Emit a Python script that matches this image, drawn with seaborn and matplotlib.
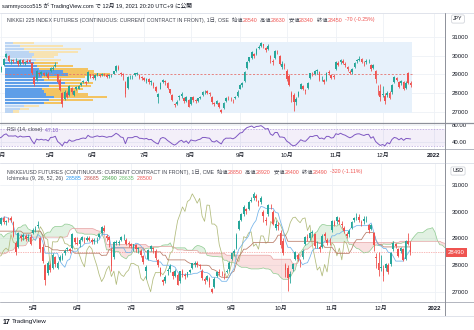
import numpy as np
import pandas as pd
import matplotlib
matplotlib.use("Agg")
import matplotlib.pyplot as plt
from matplotlib.lines import Line2D
from matplotlib.transforms import blended_transform_factory
import seaborn as sns

# ---------------------------------------------------------------------------
# Trading calendar (Osaka Exchange sessions)
# ---------------------------------------------------------------------------
closed_days = ["2020-12-31", "2021-01-01", "2021-01-11", "2021-02-11", "2021-02-23",
               "2021-04-29", "2021-05-03", "2021-05-04", "2021-05-05", "2021-07-22",
               "2021-07-23", "2021-08-09", "2021-09-20", "2021-09-23", "2021-11-03",
               "2021-11-23"]
future_closed = ["2021-12-31", "2022-01-03"]

# ---------------------------------------------------------------------------
# Daily Nikkei 225 futures bars, 2020-12-14 .. 2021-12-14 (shared by both contracts)
# ---------------------------------------------------------------------------
nk_open = [
    # Dec 2020
    26700, 26650, 26750, 26800, 26750, 26750, 26550, 26450, 26600, 26650, 26700, 27000, 27500,
    # Jan
    27570, 27200, 27200, 27300, 27700, 28200, 28250, 28500, 28650, 28350, 28300, 28600, 28600,
    28700, 28650, 28750, 28600, 28350, 28100,
    # Feb
    27700, 28150, 28400, 28500, 28450, 28900, 29400, 29450, 29500, 29700, 30150, 30400, 30200,
    30150, 30050, 29700, 29900, 29700,
    # Mar
    29150, 29600, 29400, 29300, 28700, 29000, 28700, 29100, 29200, 29400, 29700, 29800, 29900,
    30000, 30100, 29500, 29100, 28900, 28300, 28900, 29350, 29400, 29350,
    # Apr
    29250, 29500, 29950, 30000, 29700, 29750, 29750, 29700, 29550, 29750, 29600, 29700, 29750,
    29600, 28850, 28700, 29100, 29050, 29100, 29000, 29050,
    # May
    29200, 29300, 29450, 29000, 28700, 28000, 27700, 28000, 27900, 28300, 27900, 28200, 28250,
    28450, 28600, 28600, 28650, 29000,
    # Jun
    28850, 28800, 28950, 28950, 28950, 29000, 28950, 28900, 28950, 29050, 29200, 29400, 29100,
    29050, 28600, 28300, 28850, 28850, 28950, 29050, 28950, 28850,
    # Jul
    28800, 28650, 28750, 28600, 28550, 28350, 27800, 28250, 28600, 28650, 28550, 28200, 27900,
    27450, 27400, 27800, 27850, 27750, 27600, 27650,
    # Aug
    27400, 27800, 27650, 27600, 27750, 27900, 28050, 28100, 28000, 27800, 27500, 27450, 27500,
    27100, 27200, 27600, 27750, 27750, 27650, 27750, 27850,
    # Sep
    28250, 28450, 28650, 29350, 29700, 29900, 30100, 30100, 30400, 30500, 30600, 30400, 30350,
    30000, 29700, 29900, 30250, 30000, 29400, 29500,
    # Oct
    29200, 28900, 28000, 27900, 27550, 27850, 28250, 28400, 28150, 28300, 28800, 29050, 29000,
    29200, 29150, 28800, 28700, 28700, 29150, 28950, 28900,
    # Nov
    29300, 29600, 29650, 29700, 29550, 29400, 29150, 29150, 29400, 29700, 29750, 29800, 29600,
    29650, 29750, 29500, 29350, 29200, 28300, 28100,
    # Dec 1-14
    27900, 27850, 27900, 28000, 28050, 28600, 28800, 28600, 28550, 28600,
]
nk_high = [
    26800, 26750, 26800, 26900, 26850, 26800, 26600, 26600, 26700, 26700, 26900, 27600, 27600,
    27600, 27280, 27350, 27620, 28150, 28300, 28500, 28800, 28750, 28450, 28680, 28700, 28850,
    28780, 28900, 28800, 28750, 28400, 28200,
    28150, 28400, 28700, 28550, 28800, 29400, 29600, 29650, 29650, 30100, 30500, 30450, 30350,
    30250, 30200, 29950, 30250, 29750,
    29700, 29700, 29600, 29400, 29000, 29300, 29100, 29200, 29300, 29750, 29800, 29950, 29980,
    30250, 30300, 29550, 29250, 28950, 28800, 29200, 29450, 29550, 29450,
    29450, 29900, 30150, 30050, 29800, 29850, 29900, 29750, 29800, 29850, 29700, 29800, 29850,
    29650, 28900, 29250, 29150, 29200, 29150, 29150, 29150,
    29400, 29450, 29650, 29050, 28800, 28050, 28150, 28100, 28450, 28350, 28150, 28400, 28450,
    28600, 28700, 28650, 29200, 29050,
    29050, 29000, 29100, 29050, 29100, 29100, 29000, 29000, 29050, 29200, 29480, 29500, 29150,
    29100, 28650, 28900, 28950, 28950, 29100, 29150, 29000, 28900,
    28850, 28800, 28800, 28700, 28600, 28400, 28000, 28600, 28750, 28700, 28600, 28250, 27950,
    27500, 27650, 27900, 28050, 27800, 27850, 27700,
    27800, 27850, 27700, 27750, 27850, 28100, 28150, 28150, 28050, 27850, 27550, 27650, 27550,
    27150, 27550, 27800, 27850, 27800, 27700, 27850, 28150,
    28500, 28600, 29200, 29700, 29950, 30250, 30150, 30400, 30550, 30750, 30650, 30450, 30600,
    30050, 29800, 30300, 30300, 30050, 29700, 29600,
    29300, 29000, 28100, 28000, 27800, 28100, 28550, 28450, 28250, 28600, 29100, 29150, 29250,
    29300, 29200, 28900, 28750, 29150, 29250, 29000, 29000,
    29700, 29700, 29850, 29800, 29650, 29450, 29250, 29350, 29650, 29800, 29960, 29900, 29700,
    29850, 29850, 29550, 29550, 29250, 28450, 28500,
    28400, 28000, 28100, 28100, 28500, 28900, 28850, 28650, 28700, 28650,
]
nk_low = [
    26600, 26550, 26650, 26750, 26700, 26550, 26350, 26400, 26550, 26600, 26650, 26950, 27350,
    27050, 26950, 26980, 27280, 27650, 27900, 28150, 28450, 28400, 28050, 28250, 28450, 28550,
    28500, 28600, 28400, 28400, 28050, 27600,
    27650, 28100, 28350, 28250, 28400, 28850, 29300, 29400, 29350, 29650, 30100, 30150, 30050,
    29950, 29950, 29550, 29850, 28950,
    29100, 29350, 29300, 28850, 28300, 28700, 28600, 28900, 29050, 29350, 29550, 29700, 29750,
    29950, 29700, 29100, 28950, 28350, 28250, 28850, 29250, 29300, 29100,
    29150, 29450, 29900, 29650, 29550, 29600, 29650, 29450, 29500, 29550, 29500, 29600, 29600,
    29050, 28400, 28650, 28900, 28950, 28900, 28900, 28750,
    29150, 29250, 29400, 28500, 28100, 27250, 27650, 27750, 27850, 27950, 27850, 28150, 28200,
    28400, 28550, 28450, 28600, 28800,
    28750, 28700, 28900, 28850, 28900, 28900, 28800, 28800, 28850, 29000, 29150, 29250, 28900,
    28700, 27800, 28250, 28750, 28750, 28900, 28950, 28750, 28700,
    28650, 28550, 28500, 28450, 28300, 28050, 27500, 28200, 28550, 28450, 28200, 27950, 27600,
    27250, 27350, 27650, 27750, 27500, 27550, 27250,
    27350, 27550, 27500, 27550, 27700, 27850, 27950, 27950, 27850, 27450, 27300, 27400, 27200,
    26950, 27150, 27550, 27650, 27600, 27500, 27700, 27800,
    28200, 28350, 28600, 29300, 29650, 29850, 29900, 30050, 30350, 30450, 30400, 30200, 30300,
    29600, 29500, 29850, 30100, 29500, 29300, 29300,
    28650, 28400, 27550, 27040, 27350, 27800, 28200, 28150, 27950, 28250, 28750, 28900, 28950,
    29050, 28650, 28650, 28500, 28650, 28950, 28750, 28750,
    29250, 29450, 29550, 29550, 29400, 29200, 29000, 29050, 29350, 29600, 29700, 29600, 29450,
    29550, 29600, 29200, 29300, 28550, 27900, 27600,
    27800, 27410, 27800, 27680, 27970, 28550, 28650, 28300, 28450, 28150,
]
nk_close = [
    26730, 26690, 26760, 26810, 26760, 26710, 26440, 26520, 26670, 26660, 26850, 27570, 27440,
    27250, 27150, 27060, 27500, 28130, 28170, 28450, 28700, 28500, 28240, 28630, 28520, 28750,
    28630, 28820, 28550, 28630, 28200, 27660,
    28090, 28360, 28650, 28340, 28780, 29390, 29500, 29560, 29520, 30080, 30470, 30290, 30240,
    30020, 30150, 29670, 30170, 28970,
    29660, 29410, 29560, 28930, 28860, 28740, 29030, 29040, 29210, 29720, 29770, 29920, 29910,
    30220, 29790, 29170, 28990, 28400, 28730, 29180, 29380, 29430, 29180,
    29390, 29850, 30080, 29700, 29730, 29710, 29770, 29540, 29750, 29620, 29640, 29680, 29690,
    29100, 28510, 29190, 29020, 29130, 28990, 29050, 28810,
    29330, 29360, 29520, 28610, 28150, 27450, 28080, 27820, 28400, 28040, 28100, 28320, 28360,
    28550, 28640, 28550, 29150, 28860,
    28810, 28950, 29060, 28940, 29020, 28960, 28860, 28960, 28950, 29160, 29440, 29290, 29020,
    28960, 27960, 28880, 28870, 28880, 29070, 29050, 28810, 28790,
    28710, 28780, 28600, 28640, 28370, 28120, 27940, 28570, 28720, 28610, 28280, 28000, 27650,
    27390, 27550, 27830, 27970, 27580, 27780, 27280,
    27780, 27640, 27580, 27730, 27820, 28070, 28070, 28010, 27970, 27520, 27420, 27580, 27280,
    27010, 27490, 27730, 27720, 27740, 27640, 27790, 28090,
    28450, 28540, 29130, 29660, 29910, 30180, 30010, 30380, 30450, 30670, 30510, 30320, 30500,
    29840, 29640, 30250, 30240, 29540, 29540, 29450,
    28770, 28440, 27820, 27530, 27680, 28050, 28500, 28230, 28140, 28550, 29070, 29020, 29210,
    29250, 28710, 28800, 28600, 29100, 29090, 28820, 28890,
    29640, 29520, 29790, 29610, 29500, 29280, 29100, 29270, 29600, 29770, 29800, 29680, 29590,
    29740, 29770, 29300, 29500, 28750, 28280, 27820,
    27940, 27600, 28030, 27750, 28450, 28850, 28720, 28350, 28640, 28200,
]

# Final three sessions (Dec 15-17) differ between the two contracts
ose_tail_open = [28300, 29100, 28540]
ose_tail_high = [28650, 29150, 28630]
ose_tail_low = [28200, 28480, 28340]
ose_tail_close = [28550, 28520, 28450]

cme_tail_open = [28250, 28900, 28850]
cme_tail_high = [28950, 29200, 28920]
cme_tail_low = [28200, 28750, 28400]
cme_tail_close = [28900, 28810, 28490]

# Visible-range volume profile of the OSE chart (bottom row first), thousand contracts
vp_up = [8, 15, 20, 40, 45, 50, 42, 40, 38, 45, 62, 40, 38, 65, 60, 35, 33, 30, 32, 28, 30, 25, 20, 15, 8]
vp_down = [6, 10, 15, 20, 45, 55, 43, 35, 42, 43, 28, 38, 44, 43, 32, 50, 37, 25, 26, 22, 25, 50, 58, 45, 22]

price_ticks = [27000, 28000, 29000, 30000, 31000]
rsi_ticks = [40, 80]

# ---------------------------------------------------------------------------
sessions = [d for d in pd.bdate_range("2020-12-14", "2021-12-17")
            if d.strftime("%Y-%m-%d") not in closed_days]
ose = pd.DataFrame({"open": nk_open + ose_tail_open, "high": nk_high + ose_tail_high,
                    "low": nk_low + ose_tail_low, "close": nk_close + ose_tail_close},
                   index=pd.DatetimeIndex(sessions))
cme = pd.DataFrame({"open": nk_open + cme_tail_open, "high": nk_high + cme_tail_high,
                    "low": nk_low + cme_tail_low, "close": nk_close + cme_tail_close},
                   index=pd.DatetimeIndex(sessions))
n = len(sessions)
xs = np.arange(n)
dates = ose.index

future = [d for d in pd.bdate_range("2021-12-20", "2022-01-10")
          if d.strftime("%Y-%m-%d") not in future_closed]
i_2022 = n + [d.strftime("%Y-%m-%d") for d in future].index("2022-01-04")

month_idx, month_lbl = [], []
for m in range(4, 13):
    pos = np.where((dates.year == 2021) & (dates.month == m))[0]
    month_idx.append(int(pos[0]))
    month_lbl.append(f"{m}月")
month_idx.append(i_2022)
month_lbl.append("2022")

i_apr = month_idx[0]
i_may = month_idx[1]

# ---------------------------------------------------------------------------
GREEN, RED = "#26a69a", "#ef5350"
TXT, TXT2 = "#131722", "#434651"
GRID = "#eef1f6"
W, H = 474, 330

sns.set_theme(style="white")
plt.rcParams["font.family"] = ["Liberation Sans", "Noto Sans CJK JP"]
plt.rcParams["axes.unicode_minus"] = False

fig = plt.figure(figsize=(W / 100, H / 100), dpi=100)
fig.patch.set_facecolor("white")


def rect(x0, y0, x1, y1):
    return [x0 / W, 1 - y1 / H, (x1 - x0) / W, (y1 - y0) / H]


ax_top = fig.add_axes(rect(0, 13, 445, 123))
ax_rsi = fig.add_axes(rect(0, 123, 445, 149))
ax_bot = fig.add_axes(rect(0, 163, 445, 302))

ppb_top = 332 / (month_idx[8] - month_idx[1])
ppb_bot = 348 / (month_idx[8] - month_idx[1])
top_xlim = (i_apr - 1.5 / ppb_top, i_apr + (445 - 1.5) / ppb_top)
bot_xlim = (i_may - 33 / ppb_bot, i_may + (445 - 33) / ppb_bot)


def style_axis(ax, xlim, ylim, yticks, show_x, ticks, labels, yfmt=None):
    ax.set_xlim(*xlim)
    ax.set_ylim(*ylim)
    ax.set_facecolor("white")
    for s in ax.spines.values():
        s.set_visible(False)
    ax.set_axisbelow(True)
    ax.set_xticks(ticks)
    ax.set_yticks(yticks)
    ax.grid(True, color=GRID, linewidth=0.6)
    ax.yaxis.tick_right()
    ax.tick_params(axis="y", length=0, pad=5, labelsize=4.3, labelcolor=TXT)
    if yfmt:
        ax.set_yticklabels([yfmt.format(v) for v in yticks])
    if show_x:
        ax.set_xticklabels(labels)
        ax.tick_params(axis="x", length=0, pad=3.0, labelsize=4.3, labelcolor=TXT)
        ax.get_xticklabels()[-1].set_fontweight("bold")
    else:
        ax.tick_params(axis="x", length=0, labelbottom=False)


def candles(ax, df, width=0.72):
    o, h, l, c = (df[k].to_numpy(float) for k in ("open", "high", "low", "close"))
    cols = np.where(c >= o, GREEN, RED)
    ax.vlines(xs, l, h, colors=cols, linewidth=0.6, zorder=4)
    body = np.maximum(np.abs(c - o), 12)
    ax.bar(xs, body, bottom=np.minimum(o, c), width=width, color=cols, linewidth=0, zorder=5)


# ---------------------------- OSE main pane ---------------------------------
style_axis(ax_top, top_xlim, (26413, 32280), price_ticks, False, month_idx, month_lbl)

vis = ose.iloc[i_apr:]
lo, hi = vis["low"].min(), vis["high"].max()
edges = np.linspace(lo, hi, len(vp_up) + 1)
centers = (edges[:-1] + edges[1:]) / 2
row_h = (edges[1] - edges[0]) * 0.8
vp_tot = np.array(vp_up) + np.array(vp_down)

# value area: 70% of volume grown outward from the point of control
poc = int(np.argmax(vp_tot))
va = {poc}
lo_i, hi_i, acc = poc, poc, vp_tot[poc]
while acc < 0.7 * vp_tot.sum():
    below = vp_tot[lo_i - 1] if lo_i > 0 else -1
    above = vp_tot[hi_i + 1] if hi_i < len(vp_tot) - 1 else -1
    if above >= below:
        hi_i += 1
        acc += vp_tot[hi_i]
        va.add(hi_i)
    else:
        lo_i -= 1
        acc += vp_tot[lo_i]
        va.add(lo_i)

x_prof = i_apr + 1.5
span = (top_xlim[1] - top_xlim[0]) * 0.236
scale = span / vp_tot.max()
ax_top.add_patch(plt.Rectangle((x_prof, lo), (n - 0.5) - x_prof, hi - lo,
                               facecolor="#e7f1fb", edgecolor="none", zorder=1))
for k in range(len(vp_up)):
    inside = k in va
    ax_top.barh(centers[k], vp_up[k] * scale, left=x_prof, height=row_h,
                color="#5e9ee8" if inside else "#bcd5f3", linewidth=0, zorder=2)
    ax_top.barh(centers[k], vp_down[k] * scale, left=x_prof + vp_up[k] * scale, height=row_h,
                color="#f3c462" if inside else "#f7e3b3", linewidth=0, zorder=2)
ax_top.hlines(centers[poc], x_prof, n - 0.5, colors="#e5736f", linewidth=0.6,
              linestyles=(0, (2.5, 2)), zorder=3)
candles(ax_top, ose)

# ---------------------------- RSI pane --------------------------------------
delta = ose["close"].diff()
gain = delta.clip(lower=0).ewm(alpha=1 / 14, adjust=False).mean()
loss = (-delta.clip(upper=0)).ewm(alpha=1 / 14, adjust=False).mean()
rsi = 100 - 100 / (1 + gain / loss)

style_axis(ax_rsi, top_xlim, (23.5, 84.7), rsi_ticks, True, month_idx, month_lbl, "{:.2f}")
ax_rsi.axhspan(30, 70, color="#7e57c2", alpha=0.09, linewidth=0, zorder=1)
for lvl in (30, 70):
    ax_rsi.axhline(lvl, color="#b39ddb", linewidth=0.5, linestyle=(0, (2, 2)), zorder=1)
rsi_df = pd.DataFrame({"x": xs[1:], "rsi": rsi.to_numpy()[1:]})
sns.lineplot(data=rsi_df, x="x", y="rsi", ax=ax_rsi, color="#7e57c2", linewidth=0.7, zorder=3)
ax_rsi.set_xlabel("")
ax_rsi.set_ylabel("")

# ---------------------------- CME main pane + Ichimoku ----------------------
style_axis(ax_bot, bot_xlim, (26626, 31822), price_ticks, True, month_idx[1:], month_lbl[1:])
hh, ll = cme["high"], cme["low"]
conv = (hh.rolling(9).max() + ll.rolling(9).min()) / 2
base = (hh.rolling(26).max() + ll.rolling(26).min()) / 2
lead_a = (conv + base) / 2
lead_b = (hh.rolling(52).max() + ll.rolling(52).min()) / 2
shift = 25
x_lead = xs + shift
a_v, b_v = lead_a.to_numpy(), lead_b.to_numpy()
ok = ~np.isnan(a_v) & ~np.isnan(b_v)
ax_bot.fill_between(x_lead[ok], a_v[ok], b_v[ok], where=a_v[ok] >= b_v[ok], interpolate=True,
                    color="#a5d6a7", alpha=0.33, linewidth=0, zorder=1)
ax_bot.fill_between(x_lead[ok], a_v[ok], b_v[ok], where=a_v[ok] < b_v[ok], interpolate=True,
                    color="#ef9a9a", alpha=0.30, linewidth=0, zorder=1)


def ichi_line(xv, yv, color, lw=0.6):
    d = pd.DataFrame({"x": xv, "y": yv}).dropna()
    sns.lineplot(data=d, x="x", y="y", ax=ax_bot, color=color, linewidth=lw, zorder=3)


ichi_line(x_lead, a_v, "#8fcb91", 0.5)
ichi_line(x_lead, b_v, "#e6a2a2", 0.5)
ichi_line(xs - shift, cme["close"].to_numpy(), "#b0ba7a", 0.55)
ichi_line(xs, base.to_numpy(), "#b87a66", 0.55)
ichi_line(xs, conv.to_numpy(), "#72b3ea", 0.55)
ax_bot.set_xlabel("")
ax_bot.set_ylabel("")
candles(ax_bot, cme)

last_cme = int(cme["close"].iloc[-1])
ax_bot.axhline(last_cme, color=RED, linewidth=0.5, linestyle=(0, (1, 1.5)), alpha=0.8, zorder=2)
bt = blended_transform_factory(ax_bot.transAxes, ax_bot.transData)
ax_bot.text(1.006, last_cme, f"{last_cme}", transform=bt, ha="left", va="center",
            fontsize=4.3, color="white", clip_on=False,
            bbox=dict(boxstyle="square,pad=0.35", fc=RED, ec="none"), zorder=6)

# ---------------------------- frame lines -----------------------------------
def fline(x0, y0, x1, y1, color, lw=0.7):
    fig.add_artist(Line2D([x0 / W, x1 / W], [1 - y0 / H, 1 - y1 / H],
                          transform=fig.transFigure, color=color, linewidth=lw))


fline(0, 13, W, 13, "#e0e3eb")
fline(0, 123, W, 123, "#8d9099", 0.9)
fline(0, 149, W, 149, "#b2b5be")
fline(445, 13, 445, 163, "#8d9099")
fline(0, 163, W, 163, "#e0e3eb")
fline(0, 302, W, 302, "#b2b5be")
fline(445, 163, 445, 316, "#8d9099")
fline(0, 316, W, 316, "#e0e3eb")

# ---------------------------- texts -----------------------------------------
renderer = fig.canvas.get_renderer()


def seg(x, y, parts, size=3.8):
    for s, col in parts:
        t = fig.text(x / W, 1 - y / H, s, fontsize=size, color=col, ha="left", va="center")
        x += t.get_window_extent(renderer).width
    return x


def ohlc_parts(df):
    o, h, l, c = (int(df[k].iloc[-1]) for k in ("open", "high", "low", "close"))
    prev = int(df["close"].iloc[-2])
    chg = c - prev
    pct = chg / prev * 100
    return [("  始値", TXT2), (f"{o}", RED), ("  高値", TXT2), (f"{h}", RED),
            ("  安値", TXT2), (f"{l}", RED), ("  終値", TXT2), (f"{c}", RED),
            (f"  {chg} ({pct:.2f}%)", RED)]


seg(2, 5.5, [("sammycoco515 が TradingView.com で 12月 19, 2021 20:20 UTC+9 に公開", TXT)], 4.1)
seg(7, 20, [("NIKKEI 225 INDEX FUTURES (CONTINUOUS: CURRENT CONTRACT IN FRONT), 1日, OSE", TXT2)]
    + ohlc_parts(ose))
seg(7, 130, [("RSI (14, close)", TXT2), (f"  {rsi.iloc[-1]:.2f}", "#7e57c2")])
seg(7, 172, [("NIKKEI/USD FUTURES (CONTINUOUS: CURRENT CONTRACT IN FRONT), 1日, CME", TXT2)]
    + ohlc_parts(cme))
seg(7, 178.5, [("Ichimoku (9, 26, 52, 26)", TXT2),
               (f"  {conv.iloc[-1]:.0f}", "#2196f3"), (f"  {base.iloc[-1]:.0f}", "#c0504d"),
               (f"  {cme['close'].iloc[-1]:.0f}", "#43a047"), (f"  {lead_a.iloc[-1]:.0f}", "#66bb6a"),
               (f"  {lead_b.iloc[-1]:.0f}", RED)])

for label, y in (("JPY", 19), ("USD", 171)):
    fig.text(458 / W, 1 - y / H, label, fontsize=3.8, color=TXT, ha="center", va="center",
             bbox=dict(boxstyle="round,pad=0.3,rounding_size=0.25", fc="white", ec="#c9ccd4", lw=0.5))

fig.text(3 / W, 1 - 322 / H, "17", fontsize=5, color="#131722", fontweight="bold",
         ha="left", va="center")
fig.text(12 / W, 1 - 322 / H, "TradingView", fontsize=4.6, color="#131722", ha="left", va="center")

fig.savefig("out.png", dpi=100, facecolor="white")
